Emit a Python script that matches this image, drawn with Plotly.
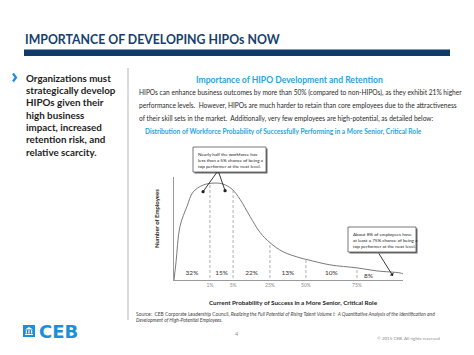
import plotly.graph_objects as go
import numpy as np

W, H = 474, 355

# ---------------- data ----------------
# schematic x position (0-100 along the axis) and relative height of the distribution curve
curve_x = [0, 0.9, 2.6, 5.7, 8.3, 12.7, 17.9, 21.4, 25.3, 28.8, 33.2, 37.6, 41.9, 47.6, 55.0, 58.5, 68.1, 79.9, 88.6, 98.7, 100]
curve_y = [0, 18, 53, 73, 87, 94, 96, 95, 90, 80, 63, 47, 37, 28, 22, 20, 15, 12, 9, 7, 6]
boundary_x = [15.7, 25.8, 41.9, 57.6, 79.9]
boundary_labels = ["1%", "5%", "25%", "50%", "75%"]
segment_shares = [32, 15, 22, 13, 10, 8]

title_text = "IMPORTANCE OF DEVELOPING HIPOs NOW"
left_lines = ["Organizations must", "strategically develop", "HIPOs given their", "high business",
              "impact, increased", "retention risk, and", "relative scarcity."]
panel_heading = "Importance of HIPO Development and Retention"
para_lines = [
    "HIPOs can enhance business outcomes by more than 50% (compared to non-HIPOs), as they exhibit 21% higher",
    "performance levels.  However, HIPOs are much harder to retain than core employees due to the attractiveness",
    "of their skill sets in the market.  Additionally, very few employees are high-potential, as detailed below:",
]
chart_title = "Distribution of Workforce Probability of Successfully Performing in a More Senior, Critical Role"
x_title = "Current Probability of Success in a More Senior, Critical Role"
y_title = "Number of Employees"
note1 = ["Nearly half the workforce has", "less than a 5% chance of being a", "top performer at the next level."]
note2 = ["About 8% of employees have", "at least a 75% chance of being a", "top performer at the next level."]
source_l1 = ("Source:  CEB Corporate Leadership Council, <i>Realizing the Full Potential of Rising Talent Volume I:  "
             "A Quantitative Analysis of the Identification and</i>")
source_l2 = "<i>Development of High-Potential Employees.</i>"
page_no = "4"
copyright_text = "© 2015 CEB. All rights reserved"

# ---------------- helpers ----------------
FONT = "Lato"
def px(x):
    return x / W
def py(y):
    return 1 - y / H

NAVY = "#163f6e"
LIGHTBLUE = "#2aa3de"
LOGOBLUE = "#1b8fd8"
DARK = "#1e1e1e"
GRAY = "#8a8a8a"

fig = go.Figure()

# distribution curve
fig.add_trace(go.Scatter(x=curve_x, y=curve_y, mode="lines",
                         line=dict(color="#7a7a7a", width=1, shape="spline", smoothing=1.0),
                         hoverinfo="skip", showlegend=False))

# dashed boundaries up to the curve
b_heights = np.interp(boundary_x, curve_x, curve_y)
dx, dy = [], []
for bx, bh in zip(boundary_x, b_heights):
    dx += [bx, bx, None]
    dy += [-3, bh, None]
fig.add_trace(go.Scatter(x=dx, y=dy, mode="lines",
                         line=dict(color="#9a9a9a", width=0.8, dash="3px,2px"),
                         hoverinfo="skip", showlegend=False, cliponaxis=False))

# segment shares
edges = [0] + boundary_x + [100]
mids = [(edges[i] + edges[i + 1]) / 2 for i in range(len(segment_shares))]
mids[-1] -= 5
ys = [7] * len(segment_shares)
ys[-1] = 4
fig.add_trace(go.Scatter(x=mids, y=ys, mode="text",
                         text=[f"{v}%" for v in segment_shares],
                         textfont=dict(family=FONT, size=6.5, color="#333333"),
                         hoverinfo="skip", showlegend=False))

fig.update_layout(
    width=W, height=H, margin=dict(l=0, r=0, t=0, b=0),
    paper_bgcolor="white", plot_bgcolor="white",
    xaxis=dict(domain=[px(174), px(403)], range=[0, 100], showgrid=False, zeroline=False,
               showline=True, linecolor="#9a9a9a", linewidth=1,
               tickmode="array", tickvals=boundary_x, ticktext=boundary_labels,
               ticks="", tickfont=dict(family=FONT, size=5, color=GRAY), automargin=False),
    yaxis=dict(domain=[py(280), py(177)], range=[0, 102], showgrid=False, zeroline=False,
               showline=True, linecolor="#9a9a9a", linewidth=1,
               showticklabels=False, ticks="", automargin=False),
    showlegend=False,
)

shapes = []
ann = []

# title + bar
ann.append(dict(text=f"<b>{title_text}</b>", x=px(23), y=py(40), xref="paper", yref="paper",
                xanchor="left", yanchor="middle", showarrow=False,
                font=dict(family=FONT, size=12.3, color=NAVY)))
shapes.append(dict(type="rect", xref="paper", yref="paper", x0=px(24), x1=px(450), y0=py(56), y1=py(49.5),
                   fillcolor="#0e3a69", line=dict(width=0)))

# chevron
shapes.append(dict(type="path", xref="paper", yref="paper",
                   path=f"M {px(13)},{py(73.5)} L {px(16)},{py(77.5)} L {px(13)},{py(81.5)}",
                   line=dict(color=LOGOBLUE, width=2.2)))

# left text
for i, line in enumerate(left_lines):
    ann.append(dict(text=f"<b>{line}</b>", x=px(23.5), y=py(77.7 + i * 12.33), xref="paper", yref="paper",
                    xanchor="left", yanchor="middle", showarrow=False,
                    font=dict(family=FONT, size=9.8, color=DARK)))

# separator
shapes.append(dict(type="line", xref="paper", yref="paper", x0=px(128), x1=px(128), y0=py(68), y1=py(320),
                   line=dict(color="#b5b5b5", width=1)))

# panel heading & paragraph
ann.append(dict(text=f"<b>{panel_heading}</b>", x=px(289.5), y=py(79.5), xref="paper", yref="paper",
                xanchor="center", yanchor="middle", showarrow=False,
                font=dict(family=FONT, size=8.6, color=LIGHTBLUE)))
for i, line in enumerate(para_lines):
    ann.append(dict(text=line, x=px(137), y=py(92.5 + i * 13), xref="paper", yref="paper",
                    xanchor="left", yanchor="middle", showarrow=False,
                    font=dict(family=FONT, size=6.6, color="#2a2a2a")))
ann.append(dict(text=f"<b>{chart_title}</b>", x=px(283), y=py(131.5), xref="paper", yref="paper",
                xanchor="center", yanchor="middle", showarrow=False,
                font=dict(family=FONT, size=6.6, color=LIGHTBLUE)))

# axis titles
ann.append(dict(text=f"<b>{y_title}</b>", x=px(157), y=py(219), xref="paper", yref="paper",
                xanchor="center", yanchor="middle", showarrow=False, textangle=-90,
                font=dict(family=FONT, size=6, color=DARK)))
ann.append(dict(text=f"<b>{x_title}</b>", x=px(293), y=py(302), xref="paper", yref="paper",
                xanchor="center", yanchor="middle", showarrow=False,
                font=dict(family=FONT, size=6.3, color=DARK)))

# callout boxes
def callout(x0, y0, x1, y1, lines):
    shapes.append(dict(type="rect", xref="paper", yref="paper", x0=px(x0 + 1.5), x1=px(x1 + 1.5),
                       y0=py(y1 + 1.5), y1=py(y0 + 1.5), fillcolor="#6b6b6b", line=dict(width=0)))
    shapes.append(dict(type="rect", xref="paper", yref="paper", x0=px(x0), x1=px(x1),
                       y0=py(y1), y1=py(y0), fillcolor="white", line=dict(color="#555555", width=0.8)))
    ann.append(dict(text="<br>".join(lines), x=px(x0 + 2.5), y=py((y0 + y1) / 2), xref="paper", yref="paper",
                    xanchor="left", yanchor="middle", align="left", showarrow=False,
                    font=dict(family=FONT, size=4.6, color="#222222")))

callout(193, 147, 266, 172, note1)
callout(348, 227, 416, 252, note2)

# arrows (tips in data coordinates, tails in pixel offsets)
for (tx, ty, axp, ayp, head) in [(12.7, 87.5, 15, -21, 6), (22.3, 88.5, -7, -20, 6), (95.6, 4, -15, -24, 1)]:
    ann.append(dict(text="", x=tx, y=ty, xref="x", yref="y", ax=axp, ay=ayp, showarrow=True,
                    arrowhead=head, arrowsize=0.9, arrowwidth=0.9, arrowcolor="#222222"))

# source
ann.append(dict(text=source_l1, x=px(134), y=py(314), xref="paper", yref="paper",
                xanchor="left", yanchor="middle", showarrow=False,
                font=dict(family=FONT, size=4.9, color="#444444")))
ann.append(dict(text=source_l2, x=px(134), y=py(320), xref="paper", yref="paper",
                xanchor="left", yanchor="middle", showarrow=False,
                font=dict(family=FONT, size=4.9, color="#444444")))

# footer
ann.append(dict(text=page_no, x=px(237), y=py(334), xref="paper", yref="paper",
                xanchor="center", yanchor="middle", showarrow=False,
                font=dict(family=FONT, size=5.5, color=GRAY)))
ann.append(dict(text=copyright_text, x=px(442), y=py(338), xref="paper", yref="paper",
                xanchor="right", yanchor="middle", showarrow=False,
                font=dict(family=FONT, size=4.5, color=GRAY)))

# logo
shapes.append(dict(type="rect", xref="paper", yref="paper", x0=px(23), x1=px(35), y0=py(337), y1=py(325),
                   fillcolor=LOGOBLUE, line=dict(width=0)))
shapes.append(dict(type="path", xref="paper", yref="paper",
                   path=f"M {px(25)},{py(329.5)} L {px(29)},{py(327)} L {px(33)},{py(329.5)} Z",
                   fillcolor="white", line=dict(width=0)))
for cx in [25.8, 28.4, 31.0]:
    shapes.append(dict(type="rect", xref="paper", yref="paper", x0=px(cx), x1=px(cx + 1.2),
                       y0=py(333.5), y1=py(330.2), fillcolor="white", line=dict(width=0)))
shapes.append(dict(type="rect", xref="paper", yref="paper", x0=px(25), x1=px(33), y0=py(335), y1=py(334),
                   fillcolor="white", line=dict(width=0)))
ann.append(dict(text="<b>CEB</b>", x=px(37), y=py(331.2), xref="paper", yref="paper",
                xanchor="left", yanchor="middle", showarrow=False,
                font=dict(family="DejaVu Sans", size=18, color=LOGOBLUE)))

fig.update_layout(shapes=shapes, annotations=ann)
fig.write_html("out.html")
